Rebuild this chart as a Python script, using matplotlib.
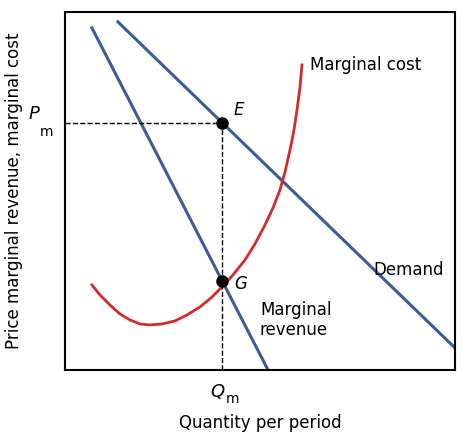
import matplotlib
matplotlib.use("Agg")
import matplotlib.pyplot as plt

# curves in plot units (x: 0..390, y: 0..358)
demand_x = [53, 390]
demand_y = [348, 22]
mr_x = [27, 203]
mr_y = [342, 0]
mc_x = [27, 35, 45, 55, 65, 75, 85, 97, 110, 122, 135, 146, 157, 168, 180,
        190, 200, 208, 215, 220, 225, 229, 232, 235, 237]
mc_y = [85, 75, 65, 56, 50, 46, 45, 46, 49, 55, 63, 72, 83, 95, 110,
        126, 145, 162, 180, 198, 220, 240, 260, 283, 305]
q_m = 157

blue = "#3b5b9e"
red = "#d42a2a"

fig = plt.figure(figsize=(4.74, 4.42), dpi=100)
ax = fig.add_axes([0.137, 0.163, 0.823, 0.81])
ax.set_xlim(0, 390)
ax.set_ylim(0, 358)
ax.set_xticks([])
ax.set_yticks([])
for s in ax.spines.values():
    s.set_linewidth(1.5)

ax.plot(demand_x, demand_y, color=blue, lw=2.2)
ax.plot(mr_x, mr_y, color=blue, lw=2.2)
ax.plot(mc_x, mc_y, color=red, lw=2.0)

# points E and G where the vertical at Qm meets demand and marginal revenue
p_m = demand_y[0] + (demand_y[1] - demand_y[0]) * (q_m - demand_x[0]) / (demand_x[1] - demand_x[0])
g_y = mr_y[0] + (mr_y[1] - mr_y[0]) * (q_m - mr_x[0]) / (mr_x[1] - mr_x[0])
ax.plot([0, q_m], [p_m, p_m], "k--", lw=1)
ax.plot([q_m, q_m], [0, p_m], "k--", lw=1)
ax.plot([q_m, q_m], [p_m, g_y], "ko", ms=8)

ax.text(q_m + 12, p_m + 8, "E", fontsize=12, style="italic")
ax.text(q_m + 12, g_y - 8, "G", fontsize=12, style="italic")
ax.text(245, 300, "Marginal cost", fontsize=12)
ax.text(308, 95, "Demand", fontsize=12)
ax.text(195, 50, "Marginal\nrevenue", fontsize=12, va="center", linespacing=1.2)

ax.text(-24, p_m, r"$P$", fontsize=13, ha="right", va="bottom")
ax.text(-12, p_m - 2, "m", fontsize=10, ha="right", va="top")
ax.text(q_m - 4, -12, r"$Q$", fontsize=13, ha="center", va="top")
ax.text(q_m + 11, -22, "m", fontsize=10, ha="center", va="top")

ax.set_xlabel("Quantity per period", fontsize=12, labelpad=32)
ax.set_ylabel("Price marginal revenue, marginal cost", fontsize=12, labelpad=30)

fig.savefig("out.png", dpi=100)
